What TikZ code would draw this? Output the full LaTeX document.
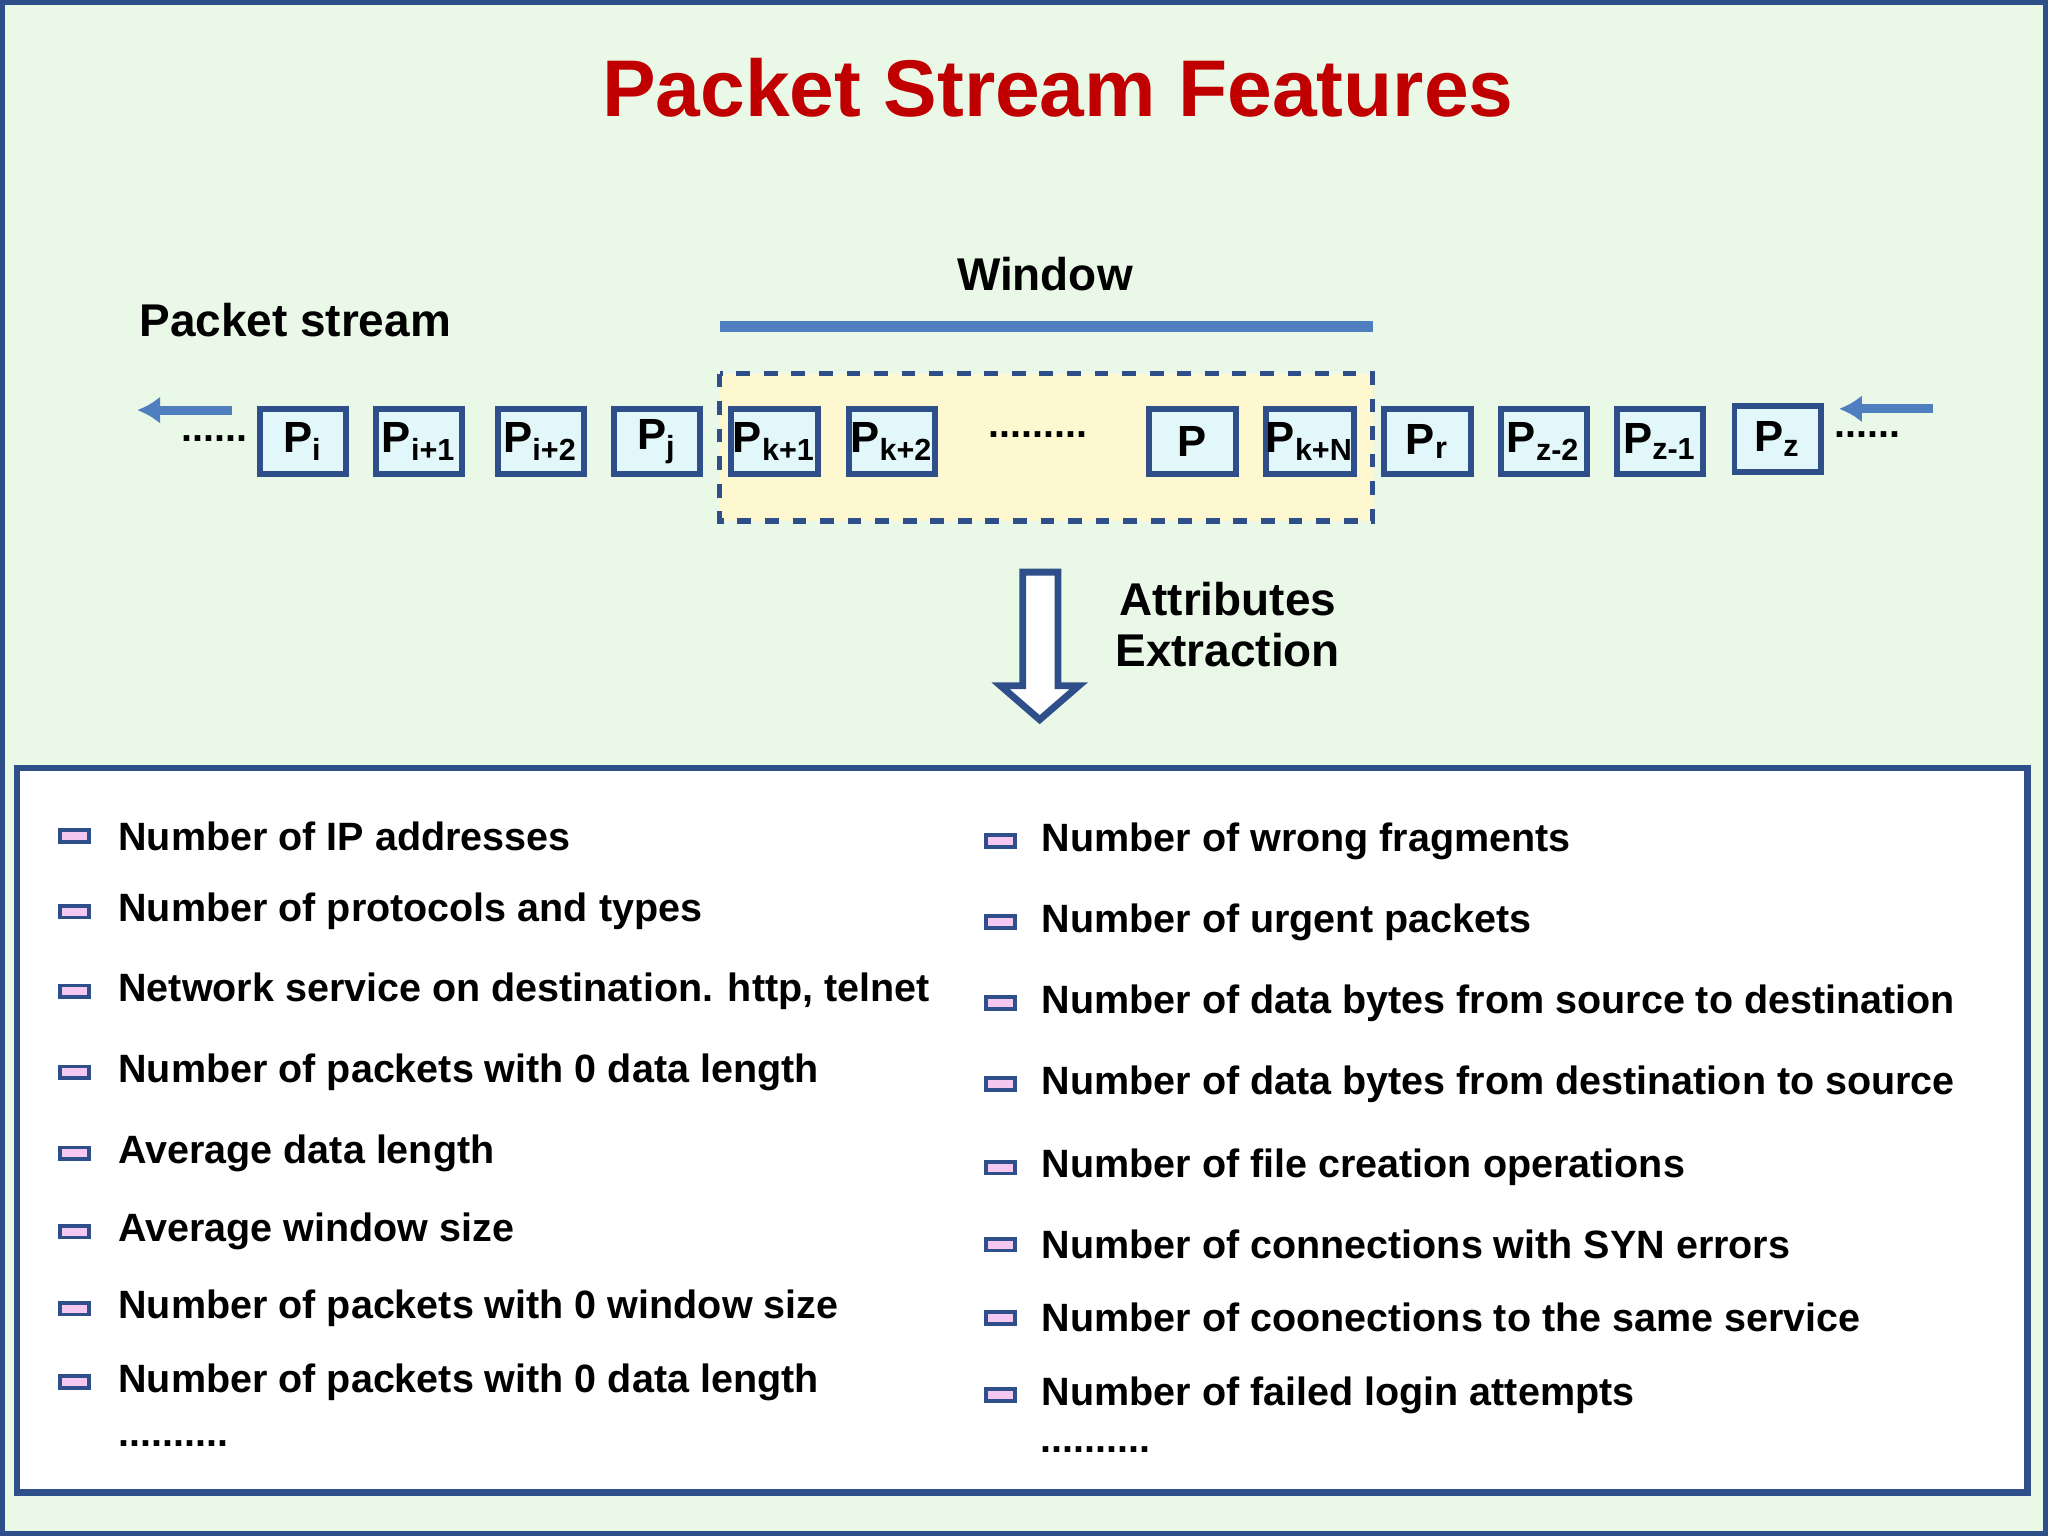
\documentclass[tikz,border=0pt]{standalone}
\usepackage{fontspec}
\setmainfont{Liberation Sans}
\usetikzlibrary{arrows.meta}
\definecolor{bg}{HTML}{EAF8E8}
\definecolor{dblue}{HTML}{2F4F8A}
\definecolor{lblue}{HTML}{4F7FBF}
\definecolor{pcyan}{HTML}{E2F7FA}
\definecolor{wyel}{HTML}{FDF8D0}
\definecolor{tred}{HTML}{C00000}
\definecolor{bpink}{HTML}{F4C8F0}
\tikzset{
 pkt/.style={draw=dblue,line width=1.3pt,fill=pcyan,minimum width=0.66cm,minimum height=0.5cm,inner sep=0pt,font=\bfseries\fontsize{9.5}{11}\selectfont},
 item/.style={anchor=west,inner sep=0pt,font=\bfseries\fontsize{8.6}{10}\selectfont},
 bul/.style={draw=dblue,line width=0.8pt,fill=bpink,minimum width=0.22cm,minimum height=0.09cm,inner sep=0pt},
 lbl/.style={font=\bfseries\fontsize{10}{12}\selectfont,align=center,inner sep=0pt},
 dots/.style={font=\bfseries\fontsize{8.6}{10}\selectfont,inner sep=0pt}
}
\begin{document}
\begin{tikzpicture}[x=0.01cm,y=-0.01cm]
\useasboundingbox (0,0) rectangle (1568,1176);
\draw[fill=bg,draw=dblue,line width=1.5pt] (1,1) rectangle (1567,1175);
\node[font=\bfseries\fontsize{17.5}{20}\selectfont,text=tred] (title) at (810,67) {Packet Stream Features};
\node[lbl] (win) at (800,210) {Window};
\draw[lblue,line width=2.2pt] (551,250) -- (1051,250);
\node[lbl] (ps) at (226,245) {Packet stream};
\draw[dashed,draw=dblue,line width=1.2pt,fill=wyel] (551,286) rectangle (1051,399);
\node[pkt] (p1) at (232,338) {P\textsubscript{i}};
\node[pkt] (p2) at (321,338) {P\textsubscript{i+1}};
\node[pkt] (p3) at (414,338) {P\textsubscript{i+2}};
\node[pkt] (p4) at (503,338) {P\textsubscript{j}};
\node[pkt] (p5) at (593,338) {P\textsubscript{k+1}};
\node[pkt] (p6) at (683,338) {P\textsubscript{k+2}};
\node[pkt] (p7) at (913,338) {P};
\node[pkt] (p8) at (1003,338) {P\textsubscript{k+N}};
\node[pkt] (p9) at (1093,338) {P\textsubscript{r}};
\node[pkt] (p10) at (1182,338) {P\textsubscript{z-2}};
\node[pkt] (p11) at (1271,338) {P\textsubscript{z-1}};
\node[pkt] (p12) at (1361,336) {P\textsubscript{z}};
\node[dots] (d1) at (164,336) {......};
\node[dots] (d2) at (795,333) {.........};
\node[dots] (d3) at (1430,333) {......};
\coordinate (la) at (178,314); \coordinate (lb) at (105,314);
\coordinate (ra) at (1480,313); \coordinate (rb) at (1408,313);
\draw[lblue,line width=2pt,-{Latex[length=5pt,width=6pt]}] (la) -- (lb);
\draw[lblue,line width=2pt,-{Latex[length=5pt,width=6pt]}] (ra) -- (rb);
\draw[dblue,line width=1.5pt,fill=white] (783,438) -- (810,438) -- (810,525) -- (826,525) -- (796,551) -- (766,525) -- (783,525) -- cycle;
\node[lbl] (ae) at (940,478) {Attributes\\[-1pt]Extraction};
\draw[fill=white,draw=dblue,line width=1.5pt] (13,588) rectangle (1552,1143);
\foreach \y/\t [count=\i] in {640/Number of IP addresses,698/Number of protocols and types,759/{Network service on destination. http, telnet},821/Number of packets with 0 data length,883/Average data length,943/Average window size,1002/Number of packets with 0 window size,1058/Number of packets with 0 data length}{
 \node[bul] (bl\i) at (57,\y) {};
 \node[item] (tl\i) at (90,\y) {\t};
}
\node[dots,anchor=west] (dl) at (90,1105) {..........};
\foreach \y/\t [count=\i] in {644/Number of wrong fragments,706/Number of urgent packets,768/Number of data bytes from source to destination,830/Number of data bytes from destination to source,894/Number of file creation operations,953/Number of connections with SYN errors,1009/Number of coonections to the same service,1068/Number of failed login attempts}{
 \node[bul] (br\i) at (766,\y) {};
 \node[item] (tr\i) at (797,\y) {\t};
}
\node[dots,anchor=west] (dr) at (796,1110) {..........};
\end{tikzpicture}
\end{document}
